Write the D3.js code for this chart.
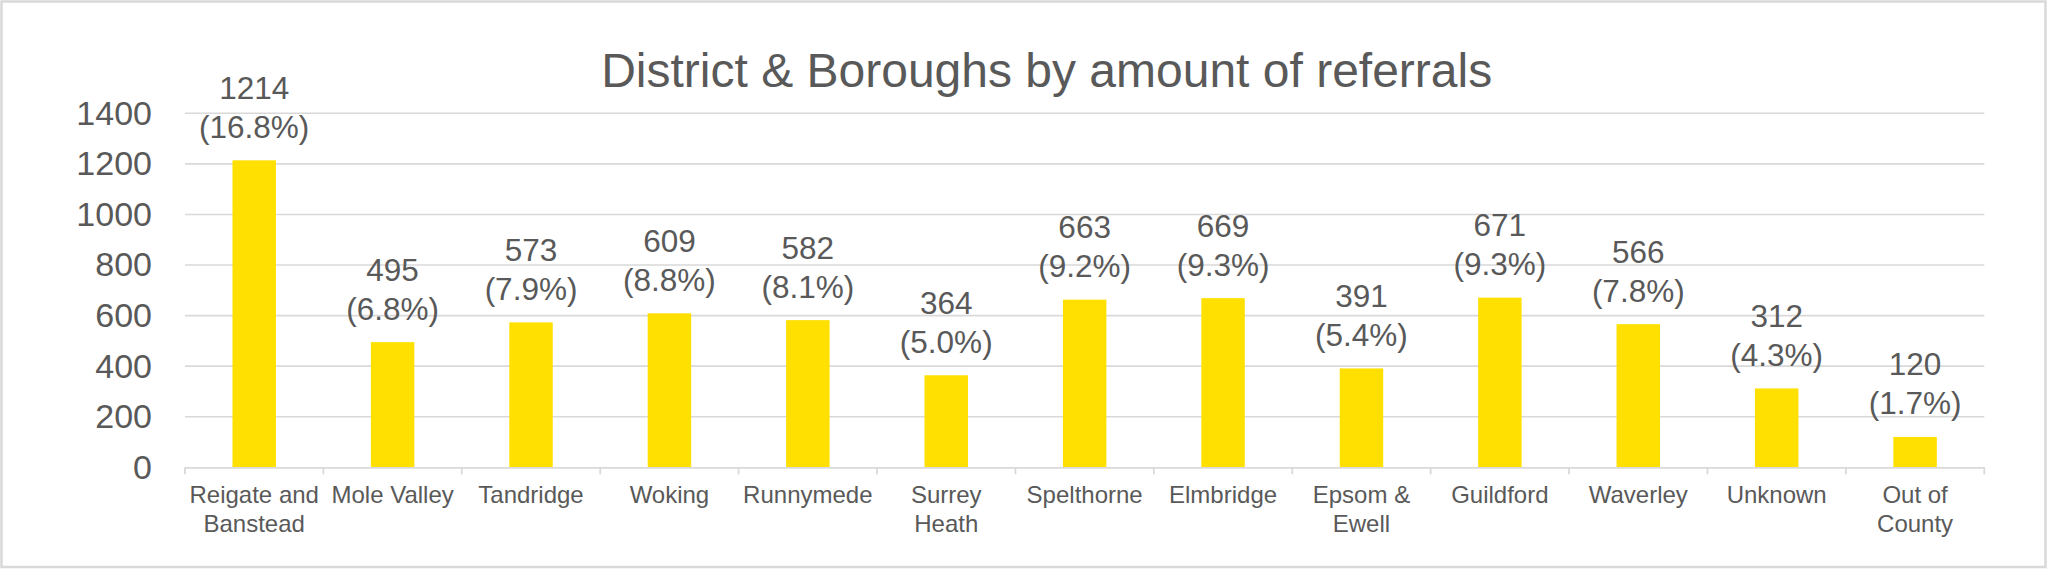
<!DOCTYPE html>
<html>
<head>
<meta charset="utf-8">
<script src="https://cdn.jsdelivr.net/npm/d3@7"></script>
<style>
  html, body { margin: 0; padding: 0; background: #fff; }
  svg { display: block; }
  text { font-family: "Liberation Sans", Arial, sans-serif; fill: #595959; }
</style>
</head>
<body>
<svg id="chart" width="2048" height="570"></svg>
<script>
const title = "District & Boroughs by amount of referrals";
const categories = ["Reigate and\nBanstead", "Mole Valley", "Tandridge", "Woking", "Runnymede", "Surrey\nHeath", "Spelthorne", "Elmbridge", "Epsom &\nEwell", "Guildford", "Waverley", "Unknown", "Out of\nCounty"];
const referrals = [1214, 495, 573, 609, 582, 364, 663, 669, 391, 671, 566, 312, 120];
const percentLabels = ["16.8%", "6.8%", "7.9%", "8.8%", "8.1%", "5.0%", "9.2%", "9.3%", "5.4%", "9.3%", "7.8%", "4.3%", "1.7%"];
const yTicks = [0, 200, 400, 600, 800, 1000, 1200, 1400];

const svg = d3.select("#chart");
const W = 2048, H = 570;
const margin = { left: 185, right: 2048 - 1984.3, top: 113.3, bottom: 570 - 467.3 };

// border
svg.append("rect")
  .attr("x", 1.5).attr("y", 1.5)
  .attr("width", 2044).attr("height", 565.5)
  .attr("fill", "#fff")
  .attr("stroke", "#d9d9d9").attr("stroke-width", 2.5);

const x = d3.scaleBand()
  .domain(categories)
  .range([margin.left, W - margin.right])
  .paddingInner(0.686).paddingOuter(0.343);

const xOuter = d3.scaleBand()
  .domain(categories)
  .range([margin.left, W - margin.right]);

const y = d3.scaleLinear().domain([0, 1400]).range([H - margin.bottom, margin.top]);

// gridlines
svg.append("g").selectAll("line").data(yTicks.filter(d => d > 0)).join("line")
  .attr("x1", margin.left).attr("x2", W - margin.right)
  .attr("y1", d => y(d)).attr("y2", d => y(d))
  .attr("stroke", "#d9d9d9").attr("stroke-width", 1.6);

// y axis labels
const yAxis = d3.axisLeft(y).tickValues(yTicks).tickFormat(d3.format("d")).tickSize(0).tickPadding(33);
const gy = svg.append("g").attr("transform", `translate(${margin.left},0)`).call(yAxis);
gy.select(".domain").remove();
gy.selectAll("text")
  .attr("font-size", 34)
  .attr("font-family", "Liberation Sans, Arial, sans-serif")
  .attr("fill", "#595959");

// bars
svg.append("g").selectAll("rect").data(categories).join("rect")
  .attr("x", d => x(d))
  .attr("width", x.bandwidth())
  .attr("y", (d, i) => y(referrals[i]))
  .attr("height", (d, i) => y(0) - y(referrals[i]))
  .attr("fill", "#FFE000");

// x axis line + ticks
const baseY = y(0);
svg.append("line")
  .attr("x1", margin.left).attr("x2", W - margin.right)
  .attr("y1", baseY + 0.5).attr("y2", baseY + 0.5)
  .attr("stroke", "#d9d9d9").attr("stroke-width", 1.8);
const tickXs = categories.map(c => xOuter(c)).concat([W - margin.right]);
svg.append("g").selectAll("line").data(tickXs).join("line")
  .attr("x1", d => d).attr("x2", d => d)
  .attr("y1", baseY).attr("y2", baseY + 7)
  .attr("stroke", "#d9d9d9").attr("stroke-width", 1.8);

// x labels
const xl = svg.append("g").selectAll("text").data(categories).join("text")
  .attr("text-anchor", "middle")
  .attr("font-size", 24)
  .attr("x", d => x(d) + x.bandwidth() / 2)
  .attr("y", 503.3);
xl.each(function(d) {
  const lines = d.split("\n");
  const t = d3.select(this);
  lines.forEach((ln, k) => {
    t.append("tspan")
      .attr("x", x(d) + x.bandwidth() / 2)
      .attr("dy", k === 0 ? 0 : 28.4)
      .text(ln);
  });
});

// data labels
const dl = svg.append("g").selectAll("text").data(categories).join("text")
  .attr("text-anchor", "middle")
  .attr("font-size", 31.5);
dl.each(function(d, i) {
  const cx = x(d) + x.bandwidth() / 2;
  const top = y(referrals[i]);
  const t = d3.select(this);
  t.append("tspan").attr("x", cx).attr("y", top - 22.5 - 39).text(referrals[i]);
  t.append("tspan").attr("x", cx).attr("y", top - 22.5).text("(" + percentLabels[i] + ")");
});

// title
svg.append("text")
  .attr("x", 1046.7).attr("y", 86.7)
  .attr("text-anchor", "middle")
  .attr("font-size", 48)
  .text(title);
</script>
</body>
</html>
